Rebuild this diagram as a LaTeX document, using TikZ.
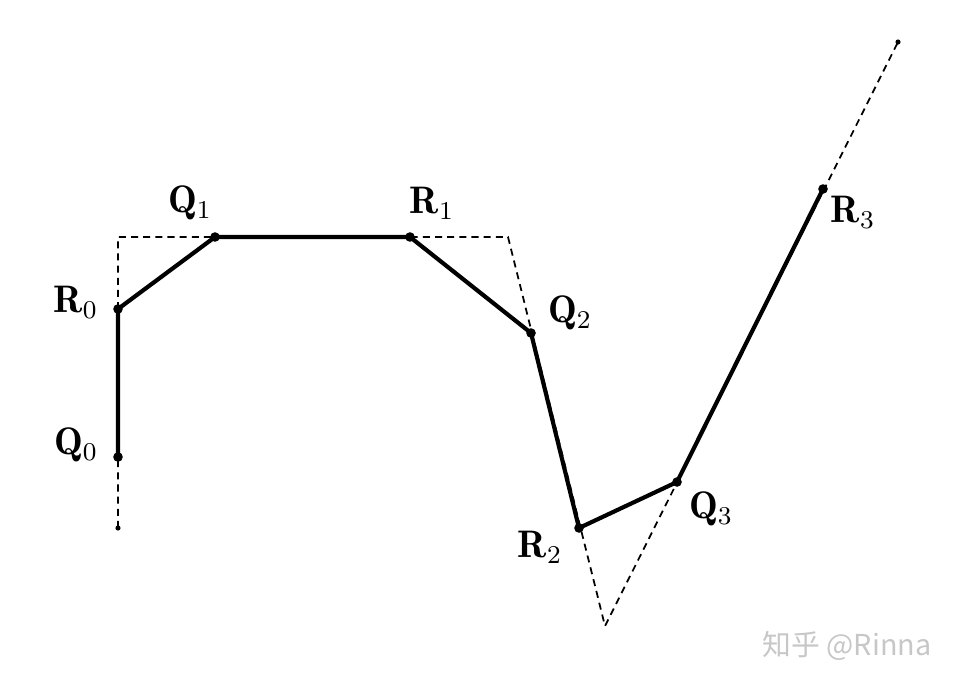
\documentclass[tikz,border=0pt]{standalone}
\usepackage{fontspec}
\newfontfamily\cjk{Noto Sans CJK SC}
\begin{document}
\begin{tikzpicture}[x=0.3125pt,y=-0.3125pt,
  ctrl/.style={dash pattern=on 2.2pt off 1.6pt,line width=0.55pt},
  curve/.style={line width=1.3pt,line join=round},
  bigdot/.style={circle,fill=black,inner sep=0pt,minimum size=3pt},
  smalldot/.style={circle,fill=black,inner sep=0pt,minimum size=1.6pt},
  lbl/.style={inner sep=0pt,font=\fontsize{12pt}{14pt}\selectfont}]
\useasboundingbox (0,0) rectangle (956,684);
% control polygon
\coordinate (P0) at (118,528);
\coordinate (P1) at (118,237);
\coordinate (P2) at (508,237);
\coordinate (P3) at (605,626);
\coordinate (P4) at (898,42);
\draw[ctrl] (P0) -- (P1) -- (P2) -- (P3) -- (P4);
% Chaikin points
\coordinate (Q0) at (118,457);
\coordinate (R0) at (118,309);
\coordinate (Q1) at (215,237);
\coordinate (R1) at (410,237);
\coordinate (Q2) at (531,333);
\coordinate (R2) at (579,528);
\coordinate (Q3) at (677,482);
\coordinate (R3) at (823,189);
\draw[curve] (Q0) -- (R0) -- (Q1) -- (R1) -- (Q2) -- (R2) -- (Q3) -- (R3);
\foreach \p in {Q0,R0,Q1,R1,Q2,R2,Q3,R3} \node[bigdot] at (\p) {};
\node[smalldot] at (P0) {};
\node[smalldot] at (P4) {};
% labels
\node[lbl] (lQ0) at (76,445) {$\mathbf{Q}_0$};
\node[lbl] (lR0) at (76,302) {$\mathbf{R}_0$};
\node[lbl] (lQ1) at (190,203) {$\mathbf{Q}_1$};
\node[lbl] (lR1) at (432,203) {$\mathbf{R}_1$};
\node[lbl] (lQ2) at (570,313) {$\mathbf{Q}_2$};
\node[lbl] (lR2) at (540,547) {$\mathbf{R}_2$};
\node[lbl] (lQ3) at (711,509) {$\mathbf{Q}_3$};
\node[lbl] (lR3) at (853,212) {$\mathbf{R}_3$};
% watermark
\node[inner sep=0pt,text=black!22] (wm) at (847,646) {\cjk\fontsize{9pt}{11pt}\selectfont 知乎 @Rinna};
\end{tikzpicture}
\end{document}
